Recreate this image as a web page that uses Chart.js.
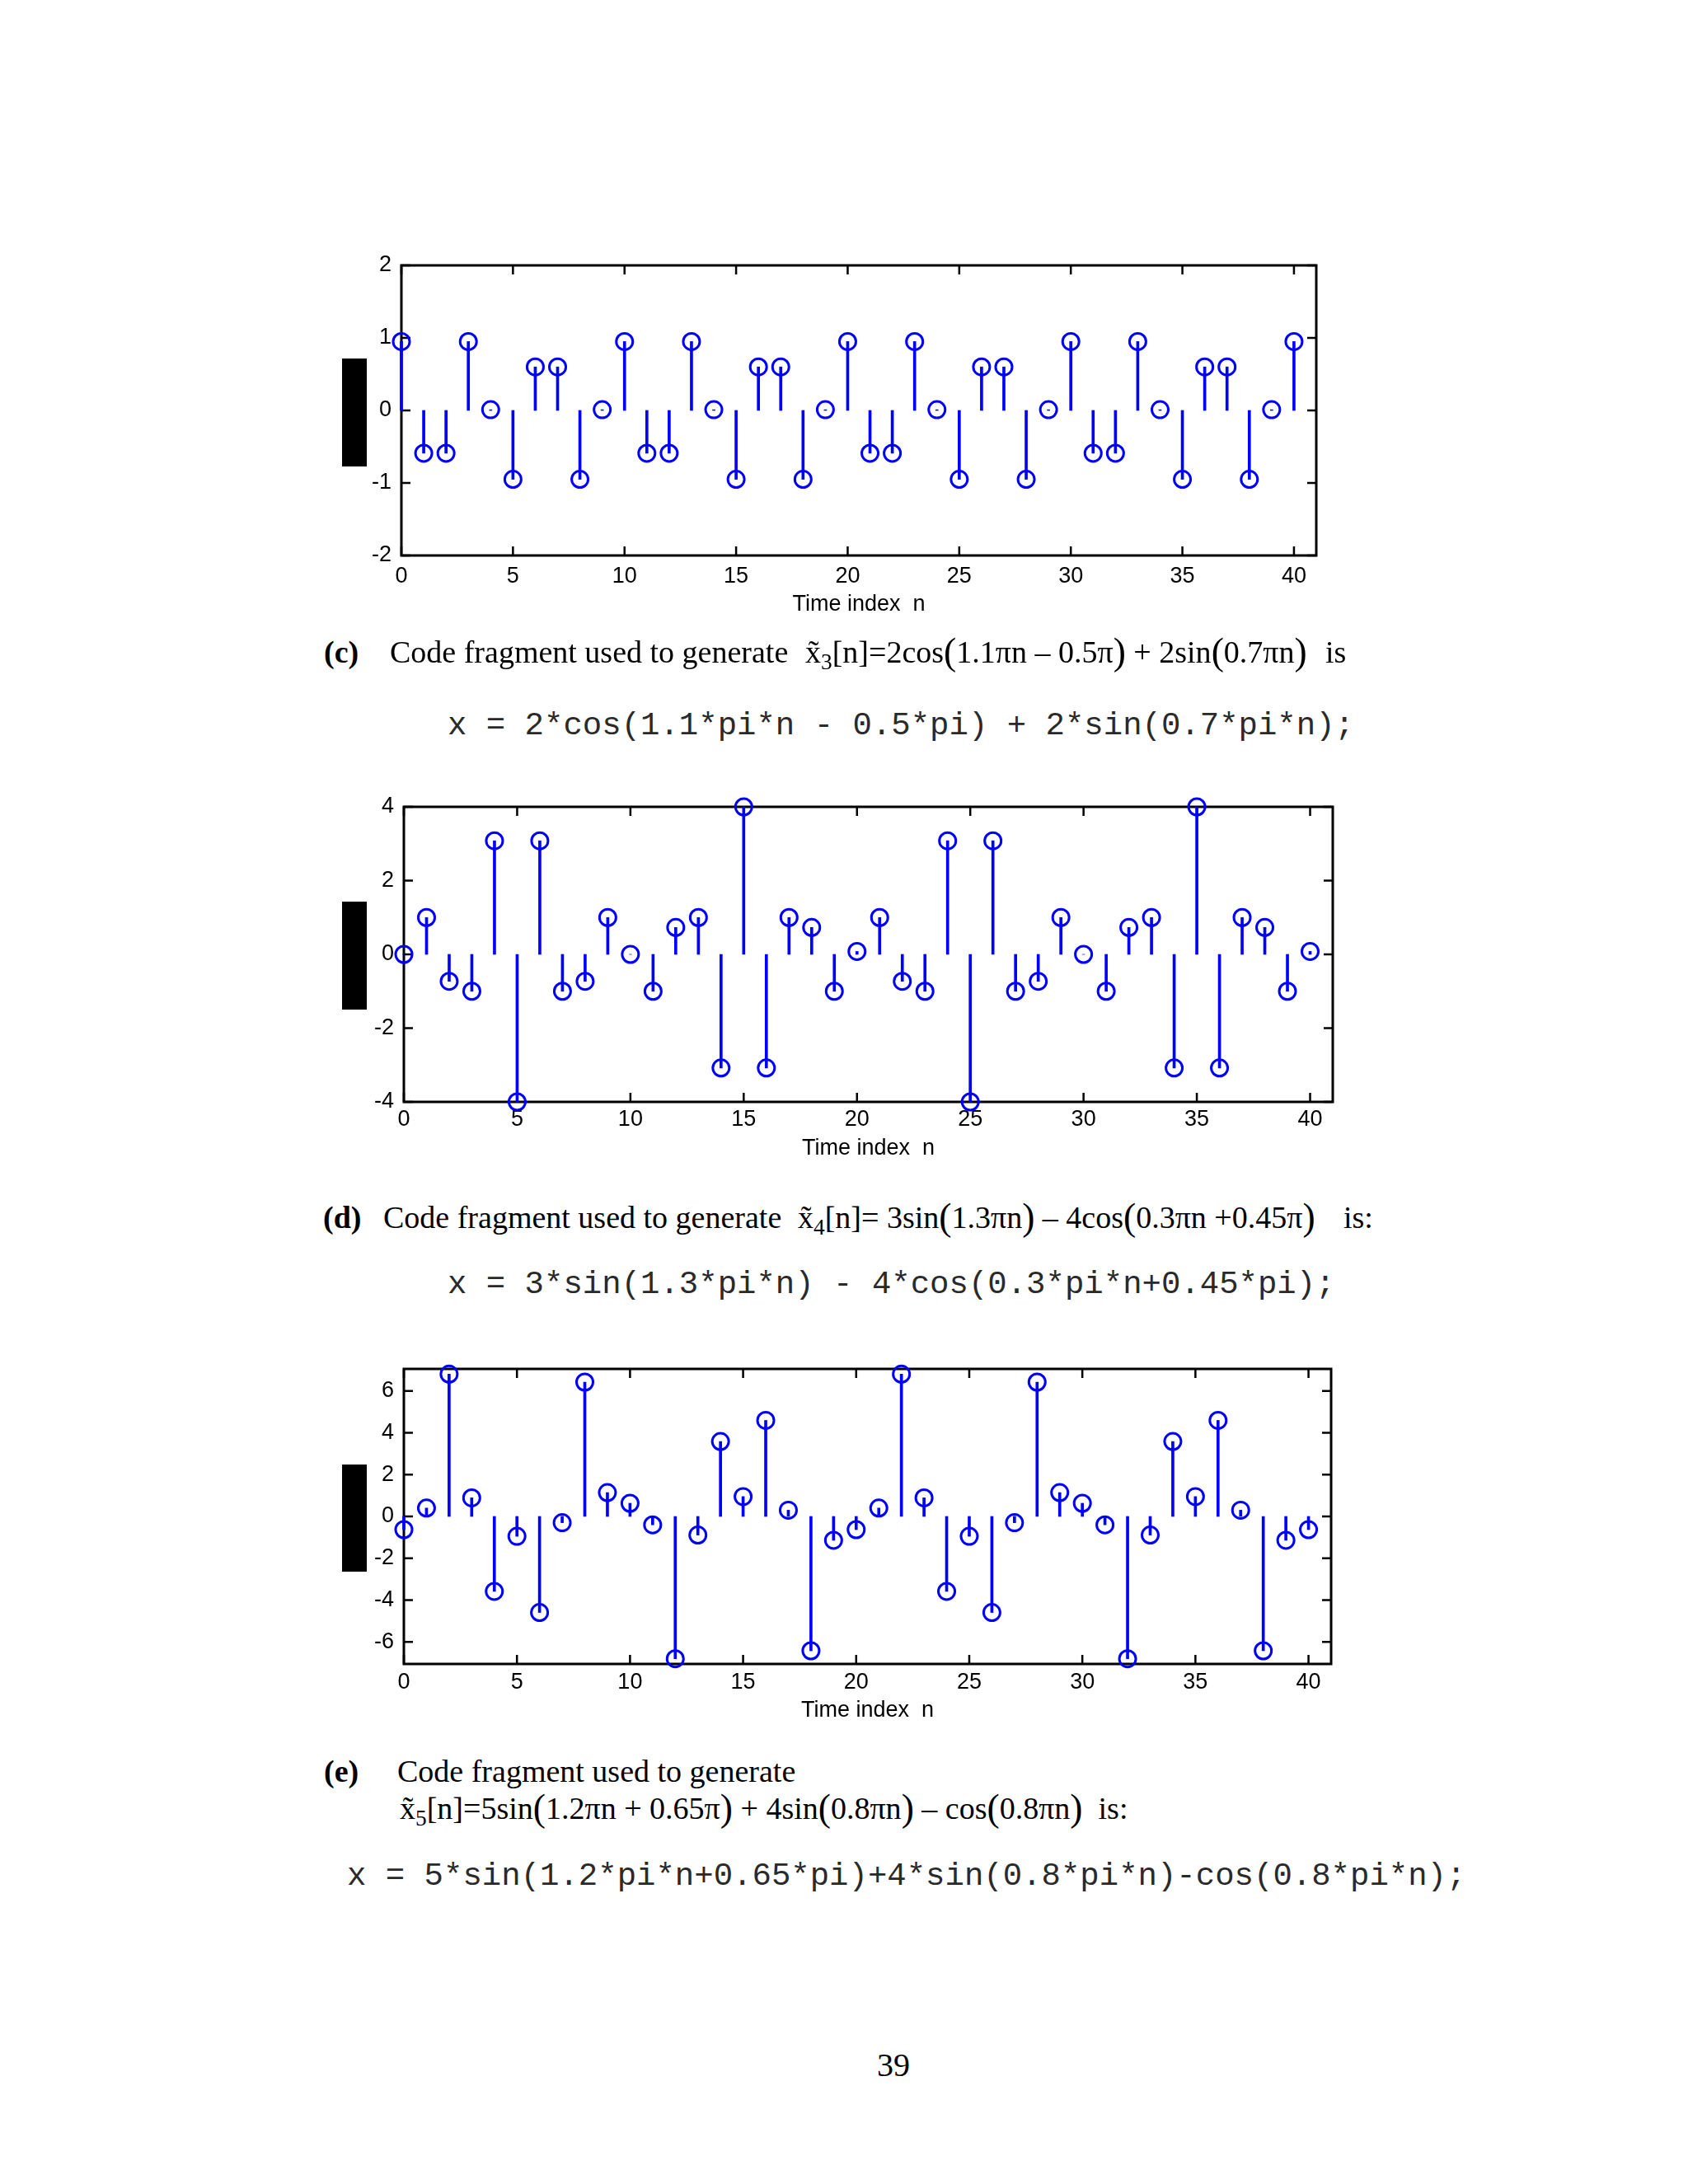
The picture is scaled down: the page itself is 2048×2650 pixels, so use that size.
<!DOCTYPE html>
<html>
<head>
<meta charset="utf-8">
<script src="https://cdn.jsdelivr.net/npm/chart.js@4.4.1/dist/chart.umd.min.js"></script>
<style>
  html, body { margin: 0; padding: 0; background: #fff; }
  body { position: relative; width: 2048px; height: 2650px; overflow: hidden; }
  canvas { position: absolute; }
  .abs { position: absolute; white-space: pre; line-height: 1; color: #000; }
  .serif { font-family: "Liberation Serif", "Times New Roman", serif; font-size: 38px; }
  .mono { font-family: "Liberation Mono", "Courier New", monospace; font-size: 39px; color: #2a2a2a; }
  .serif sub { font-size: 0.72em; line-height: 0; vertical-align: -0.28em; }
  .p { font-size: 1.2em; line-height: 0; vertical-align: -0.04em; }
  .blk { position: absolute; background: #000; }
</style>
</head>
<body>

<canvas id="plotB" width="1260" height="480" style="left:380px;top:290px"></canvas>
<canvas id="plotC" width="1280" height="480" style="left:380px;top:940px"></canvas>
<canvas id="plotD" width="1280" height="480" style="left:380px;top:1620px"></canvas>

<!-- black marks left of each plot -->
<div class="blk" style="left:415px;top:435px;width:30px;height:131px"></div>
<div class="blk" style="left:415px;top:1094px;width:30px;height:131px"></div>
<div class="blk" style="left:415px;top:1777px;width:30px;height:130px"></div>

<div class="abs serif" style="left:393px;top:772px"><b>(c)</b></div>
<div class="abs serif" style="left:473px;top:772px">Code fragment used to generate</div>
<div class="abs serif" style="left:977px;top:772px">x&#771;<sub>3</sub>[n]=2cos<span class="p">(</span>1.1πn &#8211; 0.5π<span class="p">)</span> + 2sin<span class="p">(</span>0.7πn<span class="p">)</span></div>
<div class="abs serif" style="left:1608px;top:772px">is</div>
<div class="abs mono" style="left:543px;top:862px">x = 2*cos(1.1*pi*n - 0.5*pi) + 2*sin(0.7*pi*n);</div>

<div class="abs serif" style="left:392px;top:1458px"><b>(d)</b></div>
<div class="abs serif" style="left:465px;top:1458px">Code fragment used to generate</div>
<div class="abs serif" style="left:968px;top:1458px">x&#771;<sub>4</sub>[n]= 3sin<span class="p">(</span>1.3πn<span class="p">)</span> &#8211; 4cos<span class="p">(</span>0.3πn +0.45π<span class="p">)</span></div>
<div class="abs serif" style="left:1630px;top:1458px">is:</div>
<div class="abs mono" style="left:543px;top:1540px">x = 3*sin(1.3*pi*n) - 4*cos(0.3*pi*n+0.45*pi);</div>

<div class="abs serif" style="left:393px;top:2130px"><b>(e)</b></div>
<div class="abs serif" style="left:482px;top:2130px">Code fragment used to generate</div>
<div class="abs serif" style="left:485px;top:2175px">x&#771;<sub>5</sub>[n]=5sin<span class="p">(</span>1.2πn + 0.65π<span class="p">)</span> + 4sin<span class="p">(</span>0.8πn<span class="p">)</span> &#8211; cos<span class="p">(</span>0.8πn<span class="p">)</span>  is:</div>
<div class="abs mono" style="left:421px;top:2258px">x = 5*sin(1.2*pi*n+0.65*pi)+4*sin(0.8*pi*n)-cos(0.8*pi*n);</div>

<div class="abs serif" style="left:1064px;top:2486px;font-size:40px">39</div>

<script>
// time index, 0..40
const n = [0, 1, 2, 3, 4, 5, 6, 7, 8, 9, 10, 11, 12, 13, 14, 15, 16, 17, 18, 19, 20,
           21, 22, 23, 24, 25, 26, 27, 28, 29, 30, 31, 32, 33, 34, 35, 36, 37, 38, 39, 40];

// top plot (signal from part b)
const xB = [0.95, -0.59, -0.59, 0.95, 0.01, -0.95, 0.6, 0.6, -0.95, 0.01,
            0.95, -0.59, -0.59, 0.95, 0.01, -0.95, 0.6, 0.6, -0.95, 0.01,
            0.95, -0.59, -0.59, 0.95, 0.01, -0.95, 0.6, 0.6, -0.95, 0.01,
            0.95, -0.59, -0.59, 0.95, 0.01, -0.95, 0.6, 0.6, -0.95, 0.01, 0.95];

// x3[n]
const xC = [0, 1, -0.73, -1, 3.08, -4, 3.08, -1, -0.73, 1,
            0, -1, 0.73, 1, -3.08, 4, -3.08, 1, 0.73, -1,
            0.08, 1, -0.73, -1, 3.08, -4, 3.08, -1, -0.73, 1,
            0, -1, 0.73, 1, -3.08, 4, -3.08, 1, 0.73, -1, 0.08];

// x4[n]
const xD = [-0.63, 0.4, 6.8, 0.89, -3.58, -0.95, -4.59, -0.3, 6.42, 1.14,
            0.63, -0.4, -6.8, -0.89, 3.58, 0.95, 4.59, 0.3, -6.42, -1.14,
            -0.63, 0.4, 6.8, 0.89, -3.58, -0.95, -4.59, -0.3, 6.42, 1.14,
            0.63, -0.4, -6.8, -0.89, 3.58, 0.95, 4.59, 0.3, -6.42, -1.14, -0.63];

const xTicks = [0, 5, 10, 15, 20, 25, 30, 35, 40];
const yTicksB = [-2, -1, 0, 1, 2];
const yTicksC = [-4, -2, 0, 2, 4];
const yTicksD = [-6, -4, -2, 0, 2, 4, 6];

const BLUE = '#0000ff';
const tickFont = { family: '"Liberation Sans", Arial, sans-serif', size: 27 };

// matlab style box with inward ticks on all four sides
const boxTicks = {
    id: 'boxTicks',
    beforeDatasetsDraw(chart) {
        const { ctx, chartArea: a, scales: { x, y } } = chart;
        const len = 11;
        ctx.save();
        ctx.strokeStyle = '#000';
        ctx.lineWidth = 2.5;
        ctx.beginPath();
        x.ticks.forEach(t => {
            const px = x.getPixelForValue(t.value);
            ctx.moveTo(px, a.bottom); ctx.lineTo(px, a.bottom - len);
            ctx.moveTo(px, a.top); ctx.lineTo(px, a.top + len);
        });
        y.ticks.forEach(t => {
            const py = y.getPixelForValue(t.value);
            ctx.moveTo(a.left, py); ctx.lineTo(a.left + len, py);
            ctx.moveTo(a.right, py); ctx.lineTo(a.right - len, py);
        });
        ctx.stroke();
        ctx.lineWidth = 3;
        ctx.strokeRect(a.left, a.top, a.right - a.left, a.bottom - a.top);
        ctx.restore();
    }
};

function stemPlot(id, values, yTicks, yMin, yMax, lay) {
    const pts = n.map((v, i) => ({ x: v, y: values[i] }));
    return new Chart(document.getElementById(id), {
        type: 'bar',
        data: {
            datasets: [{
                type: 'scatter',
                data: pts,
                clip: false,
                pointRadius: 10,
                pointBorderWidth: 3,
                pointBorderColor: BLUE,
                pointBackgroundColor: 'rgba(0,0,0,0)',
                order: 1
            }, {
                type: 'bar',
                data: pts,
                clip: false,
                backgroundColor: BLUE,
                borderWidth: 0,
                barThickness: 3,
                grouped: false,
                order: 2
            }]
        },
        options: {
            responsive: false,
            animation: false,
            devicePixelRatio: 1,
            layout: { padding: { left: 0, right: lay.right, top: lay.top, bottom: 0 } },
            plugins: { legend: { display: false }, tooltip: { enabled: false } },
            scales: {
                x: {
                    type: 'linear',
                    min: 0,
                    max: 41,
                    offset: false,
                    grid: { display: false, drawTicks: false },
                    border: { display: false },
                    afterBuildTicks: s => { s.ticks = xTicks.map(v => ({ value: v })); },
                    afterFit: s => { s.height = lay.xh; },
                    ticks: { font: tickFont, color: '#000', padding: lay.xpad, autoSkip: false, maxRotation: 0 },
                    title: {
                        display: true,
                        text: 'Time index  n',
                        font: tickFont,
                        color: '#000',
                        padding: { top: 0, bottom: lay.tpad }
                    }
                },
                y: {
                    min: yMin,
                    max: yMax,
                    grid: { display: false, drawTicks: false },
                    border: { display: false },
                    afterBuildTicks: s => { s.ticks = yTicks.map(v => ({ value: v })); },
                    afterFit: s => { s.width = lay.yw; },
                    ticks: { font: tickFont, color: '#000', padding: 12 }
                }
            }
        },
        plugins: [boxTicks]
    });
}

stemPlot('plotB', xB, yTicksB, -2, 2, { yw: 107, right: 43, top: 32, xh: 96, xpad: 9, tpad: 20 });
stemPlot('plotC', xC, yTicksC, -4, 4, { yw: 110, right: 43, top: 39, xh: 83, xpad: 5, tpad: 10 });
stemPlot('plotD', xD, yTicksD, -7.05, 7.05, { yw: 110, right: 45, top: 41, xh: 81, xpad: 6, tpad: 8 });
</script>
</body>
</html>
